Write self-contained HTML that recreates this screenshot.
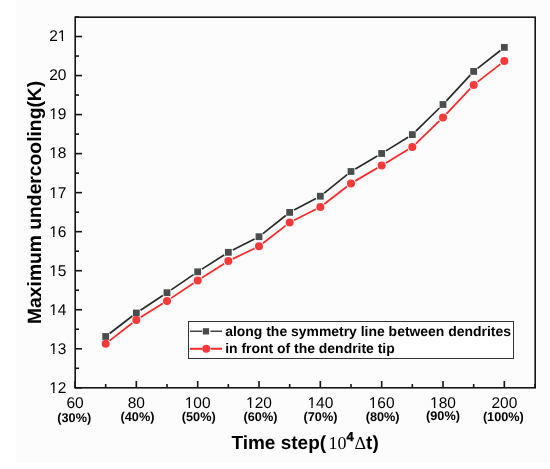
<!DOCTYPE html>
<html><head><meta charset="utf-8"><style>
html,body{margin:0;padding:0;background:#fff;}
svg{display:block;}
text{font-family:"Liberation Sans",Arial,sans-serif;fill:#000;text-rendering:geometricPrecision;}
.tl{font-size:15.5px;}
.pl{font-size:12.7px;font-weight:bold;}
.lg{font-size:13.94px;font-weight:bold;}
.ti{font-size:19px;font-weight:bold;}
.yt{font-size:19.3px;}
.se{font-family:"Liberation Serif",serif;font-weight:normal;}
.sup{font-size:13px;font-weight:bold;stroke:#000;stroke-width:0.3px;}
</style></head><body>
<svg width="550" height="469" viewBox="0 0 550 469">
<rect x="16" y="0" width="534" height="463" fill="#fcfcfc"/>
<line x1="75" y1="387.80" x2="82" y2="387.80" stroke="#151515" stroke-width="1.6"/>
<text x="66.5" y="392.65" class="tl" text-anchor="end">12</text>
<line x1="75" y1="348.77" x2="82" y2="348.77" stroke="#151515" stroke-width="1.6"/>
<text x="66.5" y="353.62" class="tl" text-anchor="end">13</text>
<line x1="75" y1="309.74" x2="82" y2="309.74" stroke="#151515" stroke-width="1.6"/>
<text x="66.5" y="314.59" class="tl" text-anchor="end">14</text>
<line x1="75" y1="270.71" x2="82" y2="270.71" stroke="#151515" stroke-width="1.6"/>
<text x="66.5" y="275.56" class="tl" text-anchor="end">15</text>
<line x1="75" y1="231.68" x2="82" y2="231.68" stroke="#151515" stroke-width="1.6"/>
<text x="66.5" y="236.53" class="tl" text-anchor="end">16</text>
<line x1="75" y1="192.65" x2="82" y2="192.65" stroke="#151515" stroke-width="1.6"/>
<text x="66.5" y="197.50" class="tl" text-anchor="end">17</text>
<line x1="75" y1="153.62" x2="82" y2="153.62" stroke="#151515" stroke-width="1.6"/>
<text x="66.5" y="158.47" class="tl" text-anchor="end">18</text>
<line x1="75" y1="114.59" x2="82" y2="114.59" stroke="#151515" stroke-width="1.6"/>
<text x="66.5" y="119.44" class="tl" text-anchor="end">19</text>
<line x1="75" y1="75.56" x2="82" y2="75.56" stroke="#151515" stroke-width="1.6"/>
<text x="66.5" y="80.41" class="tl" text-anchor="end">20</text>
<line x1="75" y1="36.53" x2="82" y2="36.53" stroke="#151515" stroke-width="1.6"/>
<text x="66.5" y="41.38" class="tl" text-anchor="end">21</text>
<line x1="75" y1="368.29" x2="79" y2="368.29" stroke="#151515" stroke-width="1.6"/>
<line x1="75" y1="329.25" x2="79" y2="329.25" stroke="#151515" stroke-width="1.6"/>
<line x1="75" y1="290.23" x2="79" y2="290.23" stroke="#151515" stroke-width="1.6"/>
<line x1="75" y1="251.19" x2="79" y2="251.19" stroke="#151515" stroke-width="1.6"/>
<line x1="75" y1="212.17" x2="79" y2="212.17" stroke="#151515" stroke-width="1.6"/>
<line x1="75" y1="173.13" x2="79" y2="173.13" stroke="#151515" stroke-width="1.6"/>
<line x1="75" y1="134.11" x2="79" y2="134.11" stroke="#151515" stroke-width="1.6"/>
<line x1="75" y1="95.07" x2="79" y2="95.07" stroke="#151515" stroke-width="1.6"/>
<line x1="75" y1="56.05" x2="79" y2="56.05" stroke="#151515" stroke-width="1.6"/>
<line x1="75" y1="17.01" x2="79" y2="17.01" stroke="#151515" stroke-width="1.6"/>
<line x1="75.00" y1="388" x2="75.00" y2="381" stroke="#151515" stroke-width="1.6"/>
<text x="75.00" y="407.6" class="tl" text-anchor="middle">60</text>
<text x="74.25" y="421.80" class="pl" text-anchor="middle">(30%)</text>
<line x1="105.67" y1="388" x2="105.67" y2="384" stroke="#151515" stroke-width="1.6"/>
<line x1="136.33" y1="388" x2="136.33" y2="381" stroke="#151515" stroke-width="1.6"/>
<text x="136.33" y="407.6" class="tl" text-anchor="middle">80</text>
<text x="137.53" y="421.20" class="pl" text-anchor="middle">(40%)</text>
<line x1="167.00" y1="388" x2="167.00" y2="384" stroke="#151515" stroke-width="1.6"/>
<line x1="197.67" y1="388" x2="197.67" y2="381" stroke="#151515" stroke-width="1.6"/>
<text x="197.67" y="407.6" class="tl" text-anchor="middle">100</text>
<text x="198.77" y="421.20" class="pl" text-anchor="middle">(50%)</text>
<line x1="228.33" y1="388" x2="228.33" y2="384" stroke="#151515" stroke-width="1.6"/>
<line x1="259.00" y1="388" x2="259.00" y2="381" stroke="#151515" stroke-width="1.6"/>
<text x="259.00" y="407.6" class="tl" text-anchor="middle">120</text>
<text x="260.50" y="421.20" class="pl" text-anchor="middle">(60%)</text>
<line x1="289.67" y1="388" x2="289.67" y2="384" stroke="#151515" stroke-width="1.6"/>
<line x1="320.33" y1="388" x2="320.33" y2="381" stroke="#151515" stroke-width="1.6"/>
<text x="320.33" y="407.6" class="tl" text-anchor="middle">140</text>
<text x="320.48" y="421.20" class="pl" text-anchor="middle">(70%)</text>
<line x1="351.00" y1="388" x2="351.00" y2="384" stroke="#151515" stroke-width="1.6"/>
<line x1="381.67" y1="388" x2="381.67" y2="381" stroke="#151515" stroke-width="1.6"/>
<text x="381.67" y="407.6" class="tl" text-anchor="middle">160</text>
<text x="382.67" y="421.20" class="pl" text-anchor="middle">(80%)</text>
<line x1="412.33" y1="388" x2="412.33" y2="384" stroke="#151515" stroke-width="1.6"/>
<line x1="443.00" y1="388" x2="443.00" y2="381" stroke="#151515" stroke-width="1.6"/>
<text x="443.00" y="407.6" class="tl" text-anchor="middle">180</text>
<text x="443.00" y="420.10" class="pl" text-anchor="middle">(90%)</text>
<line x1="473.67" y1="388" x2="473.67" y2="384" stroke="#151515" stroke-width="1.6"/>
<line x1="504.33" y1="388" x2="504.33" y2="381" stroke="#151515" stroke-width="1.6"/>
<text x="504.33" y="407.6" class="tl" text-anchor="middle">200</text>
<text x="503.33" y="421.20" class="pl" text-anchor="middle">(100%)</text>
<line x1="535.00" y1="388" x2="535.00" y2="384" stroke="#151515" stroke-width="1.6"/>
<rect x="50.03" y="390.70" width="3.10" height="3" fill="#fcfcfc"/>
<rect x="54.56" y="390.70" width="3.10" height="3" fill="#fcfcfc"/>
<rect x="50.03" y="351.70" width="3.10" height="3" fill="#fcfcfc"/>
<rect x="54.56" y="351.70" width="3.10" height="3" fill="#fcfcfc"/>
<rect x="50.03" y="312.70" width="3.10" height="3" fill="#fcfcfc"/>
<rect x="54.56" y="312.70" width="3.10" height="3" fill="#fcfcfc"/>
<rect x="50.03" y="273.70" width="3.10" height="3" fill="#fcfcfc"/>
<rect x="54.56" y="273.70" width="3.10" height="3" fill="#fcfcfc"/>
<rect x="50.03" y="234.70" width="3.10" height="3" fill="#fcfcfc"/>
<rect x="54.56" y="234.70" width="3.10" height="3" fill="#fcfcfc"/>
<rect x="50.03" y="195.70" width="3.10" height="3" fill="#fcfcfc"/>
<rect x="54.56" y="195.70" width="3.10" height="3" fill="#fcfcfc"/>
<rect x="50.03" y="155.70" width="3.10" height="3" fill="#fcfcfc"/>
<rect x="54.56" y="155.70" width="3.10" height="3" fill="#fcfcfc"/>
<rect x="50.03" y="116.70" width="3.10" height="3" fill="#fcfcfc"/>
<rect x="54.56" y="116.70" width="3.10" height="3" fill="#fcfcfc"/>
<rect x="58.65" y="38.70" width="3.10" height="3" fill="#fcfcfc"/>
<rect x="63.18" y="38.70" width="3.10" height="3" fill="#fcfcfc"/>
<rect x="185.51" y="405.70" width="3.10" height="3" fill="#fcfcfc"/>
<rect x="190.04" y="405.70" width="3.10" height="3" fill="#fcfcfc"/>
<rect x="246.84" y="405.70" width="3.10" height="3" fill="#fcfcfc"/>
<rect x="251.37" y="405.70" width="3.10" height="3" fill="#fcfcfc"/>
<rect x="308.18" y="405.70" width="3.10" height="3" fill="#fcfcfc"/>
<rect x="312.70" y="405.70" width="3.10" height="3" fill="#fcfcfc"/>
<rect x="369.51" y="405.70" width="3.10" height="3" fill="#fcfcfc"/>
<rect x="374.04" y="405.70" width="3.10" height="3" fill="#fcfcfc"/>
<rect x="430.84" y="405.70" width="3.10" height="3" fill="#fcfcfc"/>
<rect x="435.37" y="405.70" width="3.10" height="3" fill="#fcfcfc"/>
<rect x="75.2" y="17.2" width="460" height="370.6" fill="none" stroke="#151515" stroke-width="1.6"/>
<path d="M109.64 333.46L132.36 316.04M140.50 310.24L162.83 295.46M171.13 289.88L193.53 274.62M201.89 269.12L224.11 254.98M232.79 250.03L254.54 238.97M262.92 233.59L285.75 215.51M294.09 210.06L315.91 198.54M324.23 193.06L347.11 174.64M355.31 168.97L377.35 156.03M385.92 150.88L408.08 137.22M415.90 131.10L439.43 108.00M446.40 100.83L470.27 75.07M477.60 68.32L500.40 50.48" fill="none" stroke="#2a2a2a" stroke-width="1.7"/>
<path d="M109.62 340.64L132.38 323.06M140.58 317.36L162.76 303.54M171.16 298.13L193.50 283.27M201.89 277.82L224.11 263.68M232.84 258.84L254.49 248.46M262.96 243.24L285.71 225.66M294.12 220.33L315.88 209.27M324.30 203.95L347.04 186.45M355.32 180.88L377.35 168.02M385.95 162.92L408.05 149.58M415.94 143.53L439.40 120.97M446.43 113.86L470.24 88.64M477.61 81.93L500.39 64.17" fill="none" stroke="#ff2a2a" stroke-width="1.75"/>
<rect x="102.27" y="333.10" width="6.8" height="6.8" fill="#4a4d4d"/>
<rect x="132.93" y="309.60" width="6.8" height="6.8" fill="#4a4d4d"/>
<rect x="163.60" y="289.30" width="6.8" height="6.8" fill="#4a4d4d"/>
<rect x="194.27" y="268.40" width="6.8" height="6.8" fill="#4a4d4d"/>
<rect x="224.93" y="248.90" width="6.8" height="6.8" fill="#4a4d4d"/>
<rect x="255.60" y="233.30" width="6.8" height="6.8" fill="#4a4d4d"/>
<rect x="286.27" y="209.00" width="6.8" height="6.8" fill="#4a4d4d"/>
<rect x="316.93" y="192.80" width="6.8" height="6.8" fill="#4a4d4d"/>
<rect x="347.60" y="168.10" width="6.8" height="6.8" fill="#4a4d4d"/>
<rect x="378.27" y="150.10" width="6.8" height="6.8" fill="#4a4d4d"/>
<rect x="408.93" y="131.20" width="6.8" height="6.8" fill="#4a4d4d"/>
<rect x="439.60" y="101.10" width="6.8" height="6.8" fill="#4a4d4d"/>
<rect x="470.27" y="68.00" width="6.8" height="6.8" fill="#4a4d4d"/>
<rect x="500.93" y="44.00" width="6.8" height="6.8" fill="#4a4d4d"/>
<circle cx="105.67" cy="343.7" r="4.0" fill="#fa3a3a"/>
<circle cx="136.33" cy="320" r="4.0" fill="#fa3a3a"/>
<circle cx="167.00" cy="300.9" r="4.0" fill="#fa3a3a"/>
<circle cx="197.67" cy="280.5" r="4.0" fill="#fa3a3a"/>
<circle cx="228.33" cy="261" r="4.0" fill="#fa3a3a"/>
<circle cx="259.00" cy="246.3" r="4.0" fill="#fa3a3a"/>
<circle cx="289.67" cy="222.6" r="4.0" fill="#fa3a3a"/>
<circle cx="320.33" cy="207" r="4.0" fill="#fa3a3a"/>
<circle cx="351.00" cy="183.4" r="4.0" fill="#fa3a3a"/>
<circle cx="381.67" cy="165.5" r="4.0" fill="#fa3a3a"/>
<circle cx="412.33" cy="147" r="4.0" fill="#fa3a3a"/>
<circle cx="443.00" cy="117.5" r="4.0" fill="#fa3a3a"/>
<circle cx="473.67" cy="85" r="4.0" fill="#fa3a3a"/>
<circle cx="504.33" cy="61.1" r="4.0" fill="#fa3a3a"/>
<rect x="188.5" y="321.5" width="325" height="37" fill="#fff" stroke="#333" stroke-width="1"/>
<path d="M190 331.3H202.2M210.4 331.3H222" stroke="#444" stroke-width="1.6"/>
<rect x="202.8" y="328.2" width="6.3" height="6.3" fill="#4b4b4e"/>
<text x="225.2" y="335.7" class="lg">along the symmetry line between dendrites</text>
<path d="M190 348.8H202.2M210.6 348.8H222" stroke="#ff2a2a" stroke-width="2"/>
<circle cx="206.2" cy="348.8" r="4" fill="#fa3a3a"/>
<text x="225.2" y="353.4" class="lg">in front of the dendrite tip</text>
<text transform="translate(41.4,202.4) rotate(-90)" class="ti yt" text-anchor="middle">Maximum undercooling(K)</text>
<text x="231.4" y="448.6" class="ti">Time step(<tspan class="se" x="328.6" style="font-size:18px">10</tspan><tspan class="sup" x="346.6" dy="-7.9">4</tspan><tspan class="se" x="354.4" dy="7.9" style="font-size:18px">Δ</tspan><tspan x="366.1">t)</tspan></text>
</svg>
</body></html>
